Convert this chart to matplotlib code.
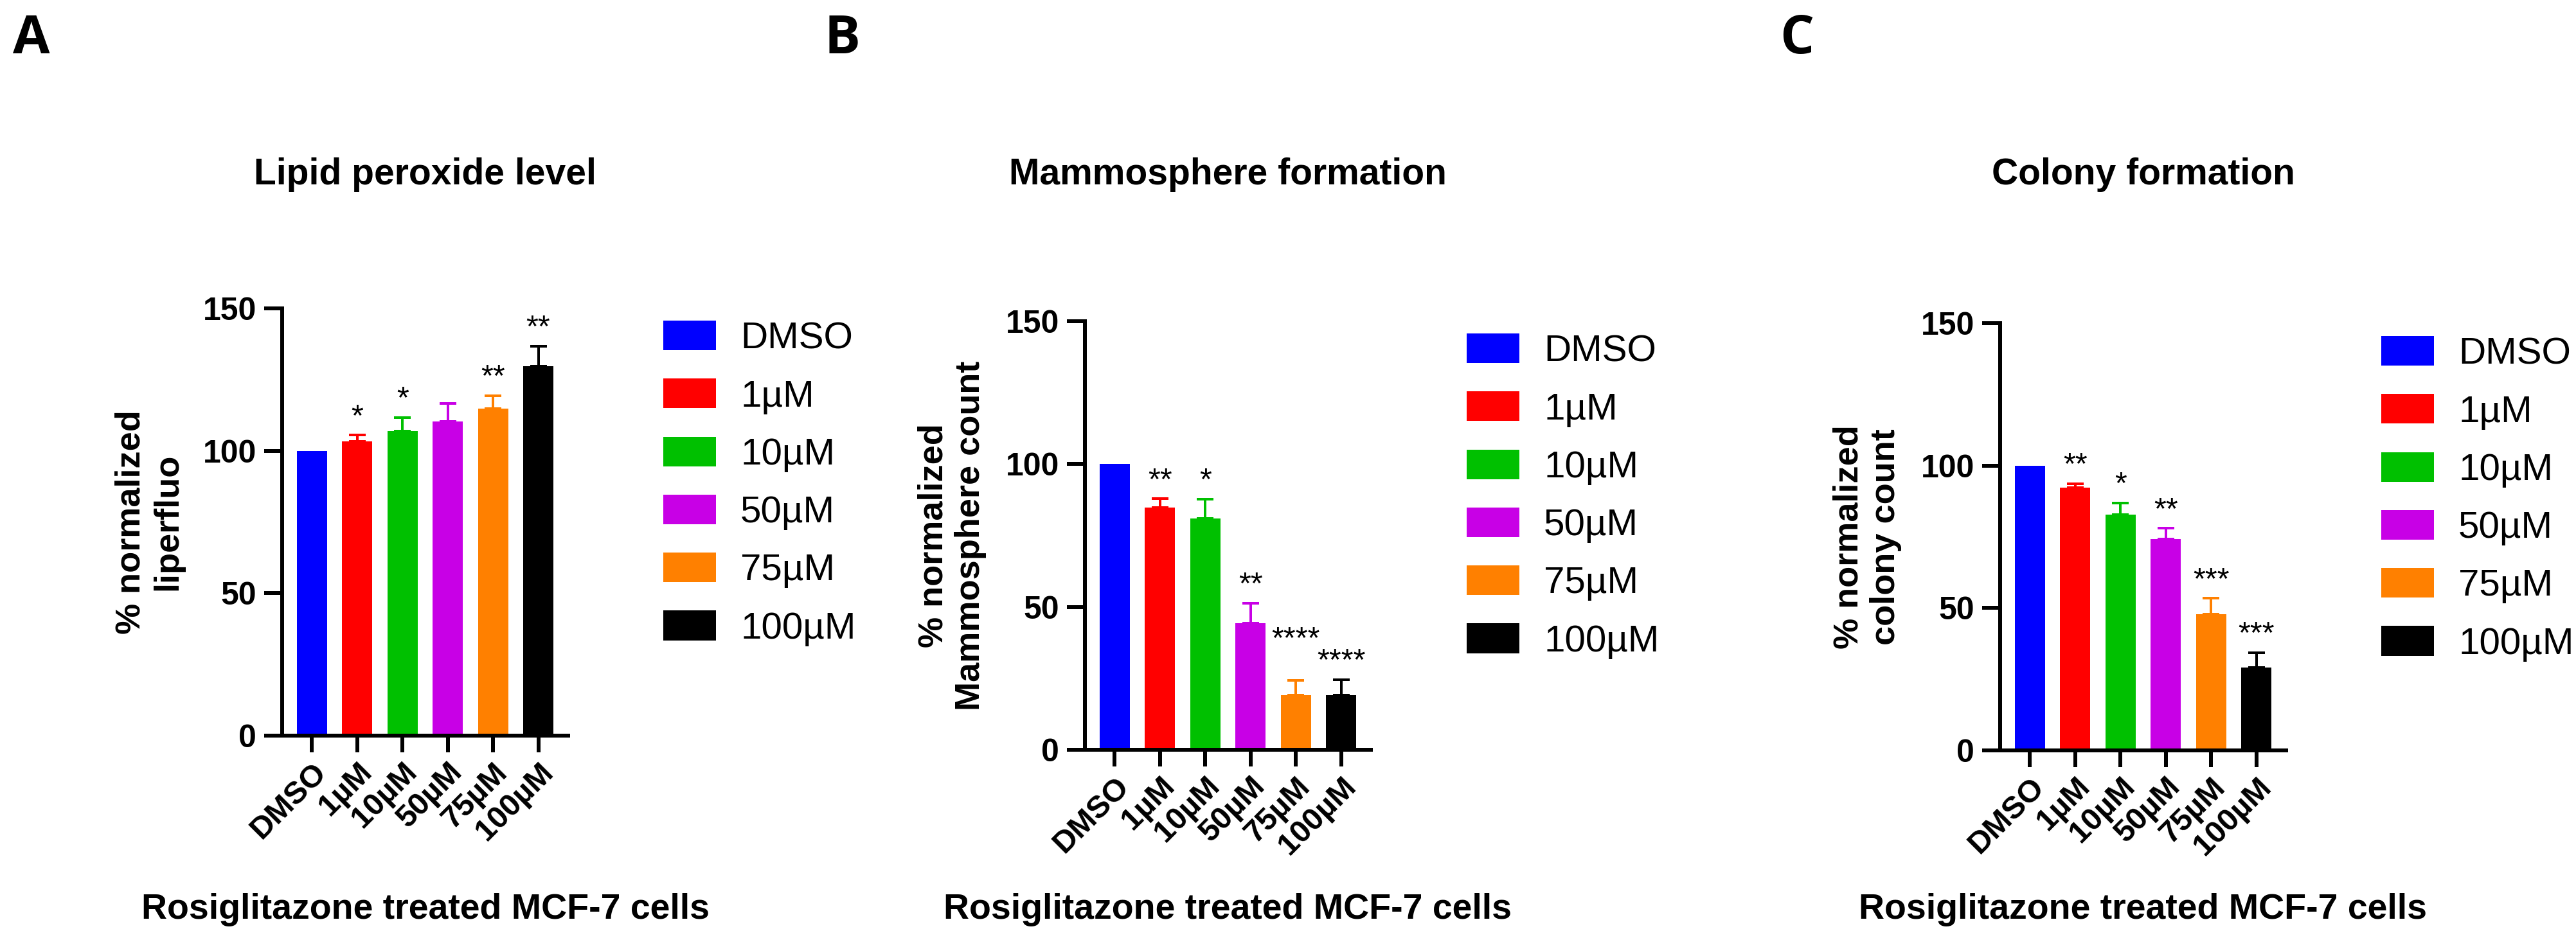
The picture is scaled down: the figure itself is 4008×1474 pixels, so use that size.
import matplotlib
matplotlib.use("Agg")
import matplotlib.pyplot as plt
import numpy as np

# ---------------- data ----------------
categories = ["DMSO", "1µM", "10µM", "50µM", "75µM", "100µM"]
bar_colors = ["#0000FF", "#FF0000", "#00C000", "#C800E6", "#FF8000", "#000000"]

lipid_mean = [100.0, 103.4, 107.0, 110.2, 114.9, 129.6]
lipid_err = [0.0, 2.1, 4.7, 6.4, 4.5, 7.2]
lipid_sig = ["", "*", "*", "", "**", "**"]

mammo_mean = [100.0, 84.7, 80.9, 44.2, 19.2, 19.2]
mammo_err = [0.0, 3.2, 6.8, 7.1, 5.1, 5.3]
mammo_sig = ["", "**", "*", "**", "****", "****"]

colony_mean = [100.0, 92.2, 82.8, 74.2, 47.9, 29.2]
colony_err = [0.0, 1.4, 4.1, 3.8, 5.5, 5.1]
colony_sig = ["", "**", "*", "**", "***", "***"]

titles = ["Lipid peroxide level", "Mammosphere formation", "Colony formation"]
ylabels = ["% normalized\nliperfluo", "% normalized\nMammosphere count", "% normalized\ncolony count"]
xlabel = "Rosiglitazone treated MCF-7 cells"
panel_letters = ["A", "B", "C"]
yticks = [0, 50, 100, 150]

# ---------------- layout (pixels) ----------------
W, H = 4008, 1474
DPI = 100
PX = 72.0 / DPI  # points per pixel

plt.rcParams["font.family"] = ["Liberation Sans", "DejaVu Sans"]

fig = plt.figure(figsize=(W / DPI, H / DPI), dpi=DPI)
fig.patch.set_facecolor("white")

# axes boxes: left, top(150), right, bottom(0)
boxes = [(439, 480, 884, 1145), (1688, 500, 2133, 1167), (3112, 503, 3557, 1168)]
legend_anchor = [(1032, 499), (2282, 519), (3705, 523)]
letter_pos = [(20, 83), (1283, 83), (2769, 83)]
star_lift = [[0] * 6, [0, 0, 0, 0, 8, 0], [0] * 6]

datasets = [
    (lipid_mean, lipid_err, lipid_sig),
    (mammo_mean, mammo_err, mammo_sig),
    (colony_mean, colony_err, colony_sig),
]

for p, (box, (means, errs, sigs)) in enumerate(zip(boxes, datasets)):
    l, t, r, b = box
    ax = fig.add_axes([l / W, 1 - b / H, (r - l) / W, (b - t) / H])
    x = np.arange(len(categories))
    bars = ax.bar(x, means, width=0.667, color=bar_colors, linewidth=0, zorder=2)
    for i in range(len(categories)):
        if errs[i] > 0:
            ax.errorbar(x[i], means[i], yerr=[[0], [errs[i]]], fmt="none",
                        ecolor=bar_colors[i], elinewidth=4 * PX, capsize=13.5 * PX,
                        capthick=4 * PX, zorder=1)
        if sigs[i]:
            ax.text(x[i], means[i] + errs[i] + 3.5 + star_lift[p][i], sigs[i],
                    ha="center", va="baseline", fontsize=35, color="black")
    ax.set_xlim(-0.66, len(categories) - 1 + 0.66)
    ax.set_ylim(0, 150)
    ax.set_yticks(yticks)
    ax.set_xticks(x)
    ax.set_xticklabels(categories, rotation=45, ha="right", va="top",
                       rotation_mode="anchor", fontsize=35, fontweight="bold")
    ax.set_yticklabels([str(v) for v in yticks], fontsize=36, fontweight="bold")
    for s in ["top", "right"]:
        ax.spines[s].set_visible(False)
    for s in ["left", "bottom"]:
        ax.spines[s].set_linewidth(6 * PX)
        ax.spines[s].set_capstyle("projecting")
    ax.tick_params(axis="y", direction="out", length=28 * PX, width=6 * PX, pad=12 * PX)
    ax.tick_params(axis="x", direction="out", length=26 * PX, width=6 * PX, pad=8 * PX)
    ax.set_facecolor("none")

    # y label
    ax.text(-207.0 / (r - l), 0.5, ylabels[p], transform=ax.transAxes, rotation=90,
            ha="center", va="center", multialignment="center", fontsize=39,
            fontweight="bold", linespacing=1.2)

    cx = (l + r) / 2 / W
    fig.text(cx, 1 - 287 / H, titles[p], ha="center", va="baseline",
             fontsize=41, fontweight="bold")
    fig.text(cx, 1 - 1430 / H, xlabel, ha="center", va="baseline",
             fontsize=40, fontweight="bold")

    lx, ly = legend_anchor[p]
    ax.legend(bars, categories, loc="upper left", bbox_to_anchor=(lx / W, 1 - ly / H),
              bbox_transform=fig.transFigure, frameon=False, fontsize=42,
              handlelength=1.41, handleheight=0.84, handletextpad=0.65,
              labelspacing=0.60, borderpad=0, borderaxespad=0)

    px_, py_ = letter_pos[p]
    fig.text(px_ / W, 1 - py_ / H, panel_letters[p], ha="left", va="baseline",
             fontsize=60, fontweight="bold", family=["Open Sans", "DejaVu Sans"])

fig.savefig("out.png", dpi=DPI, facecolor="white")
